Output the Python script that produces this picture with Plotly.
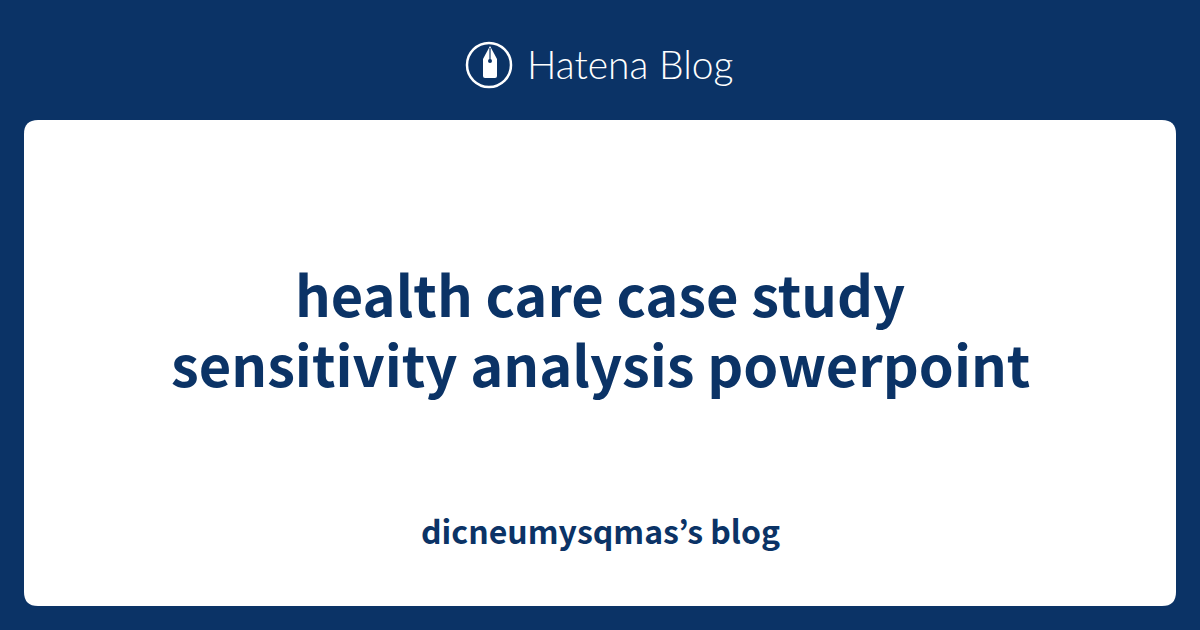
import plotly.graph_objects as go

NAVY = '#0b3366'

BRAND = 'Hatena Blog'
TITLE_LINES = ['health care case study', 'sensitivity analysis powerpoint']
BLOG_NAME = 'dicneumysqmas’s blog'

W, H = 1200, 630

fig = go.Figure()

# white card with rounded corners
x0, y0, x1, y1, r = 24, 120, 1176, 606, 14
card = (f'M {x0+r},{y0} L {x1-r},{y0} Q {x1},{y0} {x1},{y0+r} '
        f'L {x1},{y1-r} Q {x1},{y1} {x1-r},{y1} L {x0+r},{y1} '
        f'Q {x0},{y1} {x0},{y1-r} L {x0},{y0+r} Q {x0},{y0} {x0+r},{y0} Z')

# pen nib logo
nib = ('M 490,46 L 497,59 L 497,76 Q 497,78 495,78 L 485,78 '
       'Q 483,78 483,76 L 483,59 Z')

shapes = [
    dict(type='path', path=card, fillcolor='white', line_width=0, layer='below'),
    dict(type='circle', x0=467, y0=43, x1=511, y1=87,
         line=dict(color='white', width=2.5)),
    dict(type='path', path=nib, fillcolor='white', line_width=0),
    dict(type='line', x0=490, y0=48, x1=490, y1=60,
         line=dict(color=NAVY, width=1.2)),
    dict(type='circle', x0=488, y0=59, x1=492, y1=63,
         fillcolor=NAVY, line_width=0),
]

annotations = [
    dict(x=630, y=64, text=BRAND, showarrow=False, xanchor='center', yanchor='middle',
         font=dict(family='Lato', size=39, color='white', weight=300)),
    dict(x=600, y=530, text=BLOG_NAME, showarrow=False, xanchor='center', yanchor='middle',
         font=dict(family='Noto Sans CJK JP', size=32, color=NAVY, weight='bold')),
]
for i, line in enumerate(TITLE_LINES):
    annotations.append(dict(
        x=600, y=292 + 70 * i, text=line, showarrow=False,
        xanchor='center', yanchor='middle',
        font=dict(family='Noto Sans CJK JP', size=56, color=NAVY, weight='bold')))

fig.update_layout(
    width=W, height=H,
    margin=dict(l=0, r=0, t=0, b=0),
    paper_bgcolor=NAVY, plot_bgcolor=NAVY,
    shapes=shapes, annotations=annotations,
    showlegend=False,
)
fig.update_xaxes(range=[0, W], visible=False, fixedrange=True)
fig.update_yaxes(range=[H, 0], visible=False, fixedrange=True)

fig.write_html('out.html', config={'displayModeBar': False},
               post_script="document.body.style.margin='0';"
                           "document.body.style.background='" + NAVY + "';")
